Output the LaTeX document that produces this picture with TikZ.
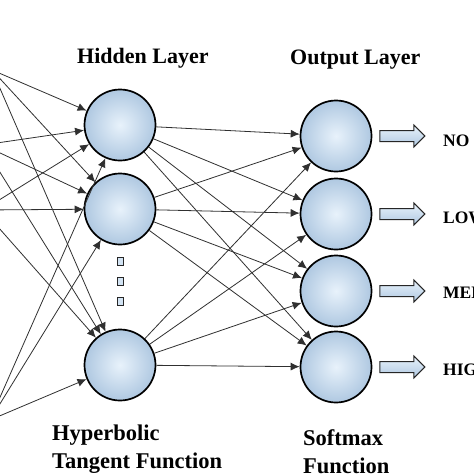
\documentclass[tikz,border=0pt]{standalone}
\usepackage{fontspec}
\setmainfont{Liberation Serif}
\usetikzlibrary{arrows.meta,shapes.arrows}
\definecolor{nodein}{HTML}{E8F2FB}
\definecolor{nodeout}{HTML}{AFC8E1}
\definecolor{edgecol}{HTML}{303030}
\definecolor{dotfill}{HTML}{D2E3F3}
\begin{document}
\begin{tikzpicture}[x=1pt,y=-1pt,
  neuron/.style={circle, minimum size=71pt, inner sep=0pt, draw=black, line width=1.7pt, inner color=nodein, outer color=nodeout},
  conn/.style={draw=edgecol, line width=0.8pt, -{Latex[length=9pt,width=8pt]}},
  blockarrow/.style={single arrow, draw=black!85, line width=1pt, minimum height=45pt, inner xsep=0pt, inner ysep=5pt, single arrow head extend=5.5pt, top color=nodein, bottom color=nodeout},
  dotbox/.style={rectangle, draw=black!85, line width=0.9pt, fill=dotfill, minimum width=6pt, minimum height=8pt, inner sep=0pt},
  title/.style={font=\bfseries\fontsize{22}{26}\selectfont, inner sep=0pt, anchor=base west},
  caption/.style={font=\bfseries\fontsize{22.5}{27}\selectfont, inner sep=0pt, anchor=base west},
  outlabel/.style={font=\bfseries\fontsize{17.5}{20}\selectfont, inner sep=0pt, anchor=west}]
\useasboundingbox (0,0) rectangle (474,474);
\fill[white] (0,0) rectangle (474,474);

% input points (cropped layer)
\coordinate (I1) at (-8,70);
\coordinate (I2) at (-17,145);
\coordinate (I3) at (-17,210);
\coordinate (I4) at (-10,420);

% hidden layer
\node[neuron] (H1) at (120,125) {};
\node[neuron] (H2) at (120,209) {};
\node[neuron] (H3) at (120,365) {};
\node[dotbox] (D1) at (120,261) {};
\node[dotbox] (D2) at (120,281) {};
\node[dotbox] (D3) at (120,301) {};

% output layer
\node[neuron] (O1) at (336,136) {};
\node[neuron] (O2) at (336,214) {};
\node[neuron] (O3) at (336,291) {};
\node[neuron] (O4) at (336,367) {};

% connections
\foreach \i in {I1,I2,I3,I4}
  \foreach \h in {H1,H2,H3}
    \draw[conn] (\i) -- (\h);
\foreach \h in {H1,H2,H3}
  \foreach \o in {O1,O2,O3,O4}
    \draw[conn] (\h) -- (\o);

% block arrows and labels
\node[blockarrow, anchor=tail] (A1) at ([xshift=7pt]O1.east) {};
\node[blockarrow, anchor=tail] (A2) at ([xshift=7pt]O2.east) {};
\node[blockarrow, anchor=tail] (A3) at ([xshift=7pt]O3.east) {};
\node[blockarrow, anchor=tail] (A4) at ([xshift=7pt]O4.east) {};
\node[outlabel] (L1) at (443,141) {NO};
\node[outlabel] (L2) at (443,218) {LOW};
\node[outlabel] (L3) at (443,293) {MEDIUM};
\node[outlabel] (L4) at (443,370) {HIGH};

% titles
\node[title] (T1) at (77,63) {Hidden Layer};
\node[title] (T2) at (290,64) {Output Layer};
\node[caption] (C1) at (52,440) {Hyperbolic};
\node[caption] (C2) at (52,468) {Tangent Function};
\node[caption] (C3) at (303,445) {Softmax};
\node[caption] (C4) at (303,473) {Function};
\end{tikzpicture}
\end{document}
